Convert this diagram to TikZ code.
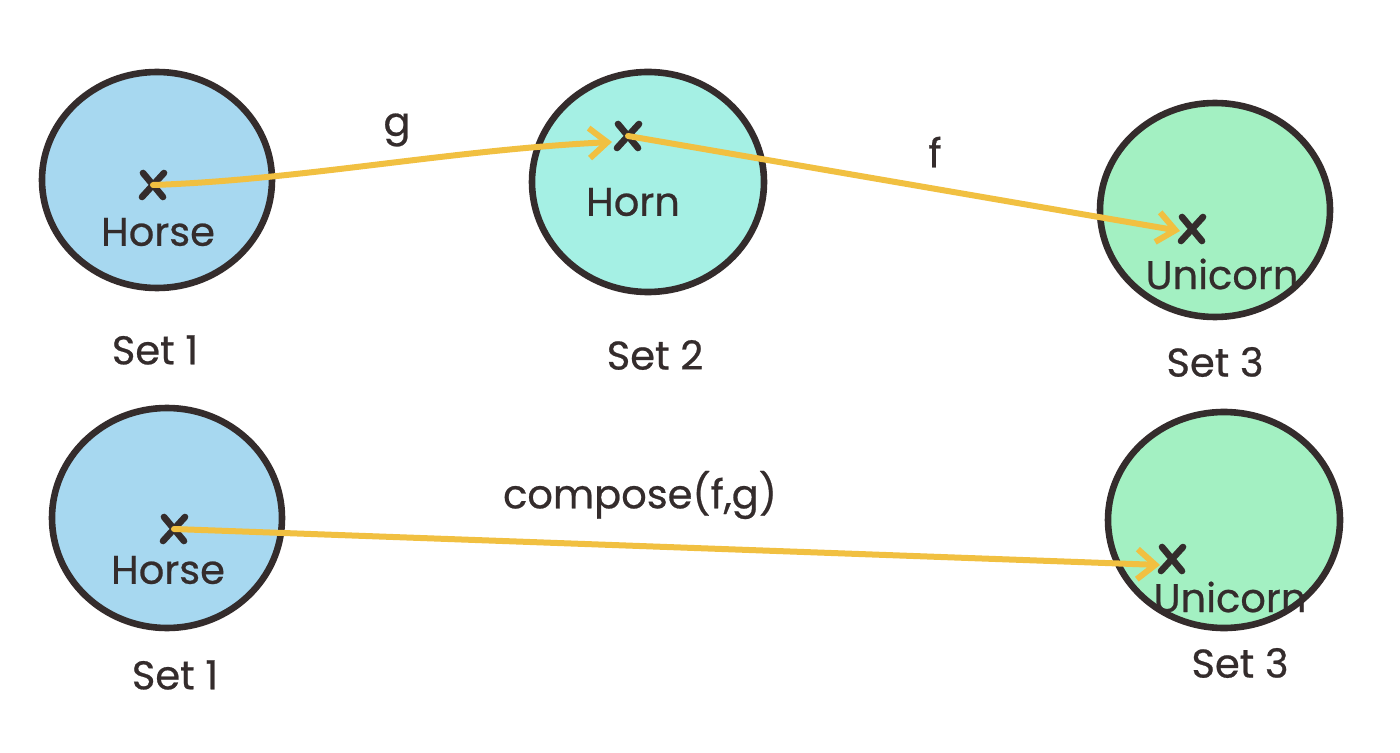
\documentclass[tikz,border=0pt]{standalone}
\usepackage{fontspec}
\setmainfont{Poppins}[FakeBold=0.6,UprightFont=*,BoldFont=*]
\usetikzlibrary{shapes.geometric,arrows.meta}
\definecolor{ink}{HTML}{342C2C}
\definecolor{setA}{HTML}{A7D8F0}
\definecolor{setB}{HTML}{A5F0E4}
\definecolor{setC}{HTML}{A3F0C2}
\definecolor{arrowc}{HTML}{F1C041}
\tikzset{
  setcirc/.style={ellipse, draw=ink, line width=3.3pt, inner sep=0pt},
  lbl/.style={text=ink, font=\fontsize{20}{24}\selectfont\bfseries},
  crossmark/.style={draw=ink, line width=3.3pt, line cap=round},
  arr/.style={draw=arrowc, line width=3pt, line cap=round,
    -{Straight Barb[length=9pt,width=15pt,line width=3pt]}},
}
\begin{document}
\begin{tikzpicture}[x=0.5pt,y=-0.5pt]
\useasboundingbox (0,0) rectangle (1400,753);
\fill[white] (0,0) rectangle (1400,753);
% top row sets
\node[setcirc, fill=setA, minimum width=115pt, minimum height=108pt] (s1) at (157,180) {};
\node[setcirc, fill=setB, minimum width=116pt, minimum height=110pt] (s2) at (648,182) {};
\node[setcirc, fill=setC, minimum width=115pt, minimum height=107pt] (s3) at (1215,210) {};
% bottom row sets
\node[setcirc, fill=setA, minimum width=115pt, minimum height=110pt] (s4) at (167,518) {};
\node[setcirc, fill=setC, minimum width=116pt, minimum height=108pt] (s5) at (1224,520) {};
% points
\coordinate (x1) at (153,185);
\coordinate (x2) at (628,136);
\coordinate (x3) at (1192,229);
\coordinate (x4) at (174,529);
\coordinate (x5) at (1172,559);
\foreach \p in {x1,x2,x3,x4,x5}{
  \draw[crossmark] ([shift={(-10,-12)}]\p) -- ([shift={(10,12)}]\p);
  \draw[crossmark] ([shift={(-11,12)}]\p) -- ([shift={(11,-12)}]\p);
}
% labels inside
\node[lbl] (h1) at (158,232) {Horse};
\node[lbl] (hn) at (633,202) {Horn};
\node[lbl] (u1) at (1222,274) {Unicorn};
\node[lbl] (h2) at (168,570) {Horse};
\node[lbl] (u2) at (1230,597) {Unicorn};
% set names
\node[lbl] (n1) at (155,350) {Set 1};
\node[lbl] (n2) at (655,355) {Set 2};
\node[lbl] (n3) at (1215,362) {Set 3};
\node[lbl] (n4) at (175,675) {Set 1};
\node[lbl] (n5) at (1240,663) {Set 3};
% arrows
\draw[arr] (x1) .. controls (300,180) and (450,150) .. ([xshift=-8,yshift=-3]x2);
\draw[arr] (x2) -- ([xshift=-6,yshift=-1]x3);
\draw[arr] (x4) -- ([xshift=-6,yshift=-3]x5);
% function labels
\node[lbl] (g) at (397,130) {g};
\node[lbl] (f) at (935,152) {f};
\node[lbl] (c) at (640,495) {compose(f,g)};
\end{tikzpicture}
\end{document}
